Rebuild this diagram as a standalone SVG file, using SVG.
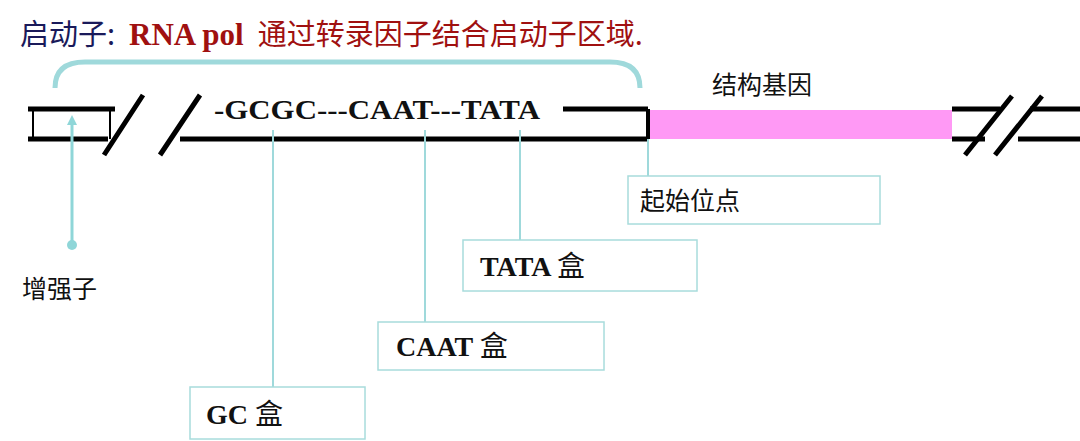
<svg xmlns="http://www.w3.org/2000/svg" width="1080" height="441" viewBox="0 0 1080 441">
<style>
.dna{stroke:#000;stroke-width:5;fill:none}
.thin{stroke:#000;stroke-width:2;fill:none}
.cy{stroke:#9fd9db;stroke-width:2;fill:none}
.box{fill:#fff;stroke:#a8dcdc;stroke-width:1.5}
.seq{font-family:"Liberation Serif",serif;font-weight:bold;font-size:28px;fill:#111}
.lbl{font-family:"Liberation Serif","Noto Sans CJK SC",serif;font-size:25px;fill:#111}
</style>
<defs><marker id="ah" markerWidth="10" markerHeight="10" refX="5" refY="5" orient="auto" markerUnits="userSpaceOnUse"><path d="M0,0L10,5L0,10z" fill="#8fd6d8"/></marker></defs>
<rect width="1080" height="441" fill="#fff"/>
<g id="title"><text x="20" y="45" font-family="'Noto Sans CJK SC',sans-serif" font-size="29" fill="#1a1a5a">启动子:<tspan font-family="'Liberation Serif','Noto Sans CJK SC',serif" font-weight="bold" fill="#a01010" dx="14" font-size="31">RNA pol</tspan><tspan fill="#a01010" dx="14">通过转录因子结合启动子区域.</tspan></text></g>
<g id="dna">
<path class="dna" d="M28,109H115M28,139H108M180,139H648M563,109H648"/>
<path class="thin" d="M33,109V139M110,109V139"/>
<path class="dna" d="M104,155L143,95M160,155L200,95M965,155L1012,96M995,155L1042,96"/>
<path class="dna" d="M952,109H1000M952,139H985M1030,109H1080M1018,139H1080"/>
<path d="M648,109V139" stroke="#000" stroke-width="4"/>
<rect x="650" y="110" width="302" height="29" fill="#ff99f5"/>
<text class="seq" x="214" y="119" textLength="326" lengthAdjust="spacingAndGlyphs">-GCGC---CAAT---TATA</text>
<text class="lbl" x="712" y="94">结构基因</text>
</g>
<g id="bracket"><path d="M55,88Q55,62 85,62H610Q640,62 640,88" stroke="#9fd9db" stroke-width="5" fill="none"/></g>
<g id="connectors">
<path class="cy" d="M648,139V176M520,130V240M425,130V322M273,130V387"/>
<path d="M72,243V120" stroke="#8fd6d8" stroke-width="3" marker-end="url(#ah)"/>
<circle cx="72" cy="245" r="5" fill="#8fd6d8"/>
</g>
<g id="start"><rect class="box" x="628" y="176" width="252" height="48"/><text class="lbl" x="640" y="210">起始位点</text></g>
<g id="tata"><rect class="box" x="463" y="240" width="234" height="51"/><text class="seq" x="480" y="276">TATA <tspan font-family="'Noto Sans CJK SC',sans-serif" font-weight="normal">盒</tspan></text></g>
<g id="caat"><rect class="box" x="378" y="322" width="226" height="48"/><text class="seq" x="396" y="356">CAAT <tspan font-family="'Noto Sans CJK SC',sans-serif" font-weight="normal">盒</tspan></text></g>
<g id="gc"><rect class="box" x="190" y="387" width="175" height="52"/><text class="seq" x="206" y="424">GC <tspan font-family="'Noto Sans CJK SC',sans-serif" font-weight="normal">盒</tspan></text></g>
<g id="enh"><text class="lbl" x="22" y="298" fill="#1a1a5a">增强子</text></g>
</svg>
